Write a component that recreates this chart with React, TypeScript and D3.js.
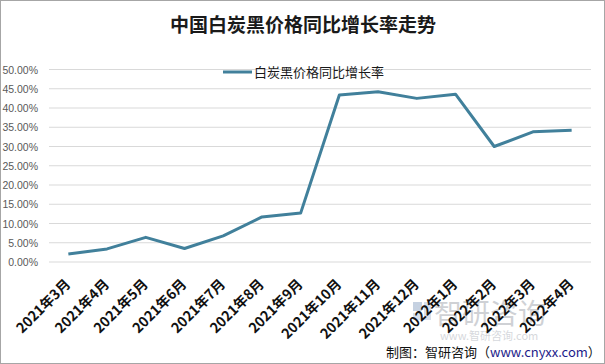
import * as d3 from "d3";

const months = [
  "2021年3月",
  "2021年4月",
  "2021年5月",
  "2021年6月",
  "2021年7月",
  "2021年8月",
  "2021年9月",
  "2021年10月",
  "2021年11月",
  "2021年12月",
  "2022年1月",
  "2022年2月",
  "2022年3月",
  "2022年4月",
];
// 同比增长率 (%)
const growth = [2.1, 3.4, 6.4, 3.5, 6.8, 11.7, 12.7, 43.4, 44.2, 42.5, 43.6, 30.0, 33.8, 34.2];
const yTicks = [0, 5, 10, 15, 20, 25, 30, 35, 40, 45, 50];

const title = "中国白炭黑价格同比增长率走势";
const seriesName = "白炭黑价格同比增长率";

export default function App() {
  const W = 605;
  const H = 364;
  const left = 49;
  const right = 591;

  const x = d3.scaleBand().domain(months).range([left, right]);
  const y = d3.scaleLinear().domain([0, 50]).range([262, 69.5]);

  const line = d3
    .line<number>()
    .x((d, i) => (x(months[i]) as number) + x.bandwidth() / 2)
    .y((d) => y(d));

  const cjk = "'Noto Sans CJK SC', 'Noto Sans', sans-serif";

  return (
    <svg
      width={W}
      height={H}
      viewBox={`0 0 ${W} ${H}`}
      style={{ position: "absolute", left: 0, top: 0, display: "block", background: "#fff" }}
    >
      <rect x={0.5} y={0.5} width={W - 1} height={H - 1} fill="#fff" stroke="#a6a6a6" strokeWidth={1} />

      <text
        x={303}
        y={32}
        fontSize={19}
        fontWeight="bold"
        fill="#1a1a1a"
        fontFamily={cjk}
        textAnchor="middle"
      >
        {title}
      </text>

      {yTicks.map((t) => (
        <g key={t}>
          <line x1={left} x2={right} y1={y(t)} y2={y(t)} stroke="#d9d9d9" strokeWidth={1} />
          <text
            x={38}
            y={y(t) + 4}
            fontSize={10.5}
            fill="#595959"
            fontFamily="'Liberation Sans', Arial, sans-serif"
            textAnchor="end"
          >
            {t.toFixed(2) + "%"}
          </text>
        </g>
      ))}

      {/* watermark */}
      <g opacity={0.4}>
        <rect x={413} y={302} width={9} height={9} fill="#6f8db5" />
        <rect x={424} y={302} width={7} height={18} fill="#9fb3cf" />
        <rect x={413} y={313} width={9} height={7} fill="#9fb3cf" />
        <text x={434} y={324} fontSize={28} fill="#8a8f99" fontFamily={cjk}>
          智研咨询
        </text>
        <text x={440} y={340} fontSize={11} fill="#9aa0aa" fontFamily={cjk}>
          www.智研咨询.com
        </text>
      </g>

      <path d={line(growth) || ""} fill="none" stroke="#41809b" strokeWidth={3} strokeLinejoin="round" />

      {months.map((m) => (
        <text
          key={m}
          transform={`translate(${(x(m) as number) + x.bandwidth() / 2 + 3}, 285) rotate(-45)`}
          fontSize={14}
          fontWeight="bold"
          fill="#111"
          fontFamily={cjk}
          textAnchor="end"
        >
          {m}
        </text>
      ))}

      <line x1={223} x2={252} y1={72} y2={72} stroke="#41809b" strokeWidth={3} />
      <text x={254} y={77} fontSize={13} fill="#1a1a1a" fontFamily={cjk}>
        {seriesName}
      </text>

      <text x={386} y={357} fontSize={13} fill="#111" fontFamily={cjk}>
        制图：智研咨询（<tspan fill="#1c1c8a">www.cnyxx.com</tspan>）
      </text>
    </svg>
  );
}
